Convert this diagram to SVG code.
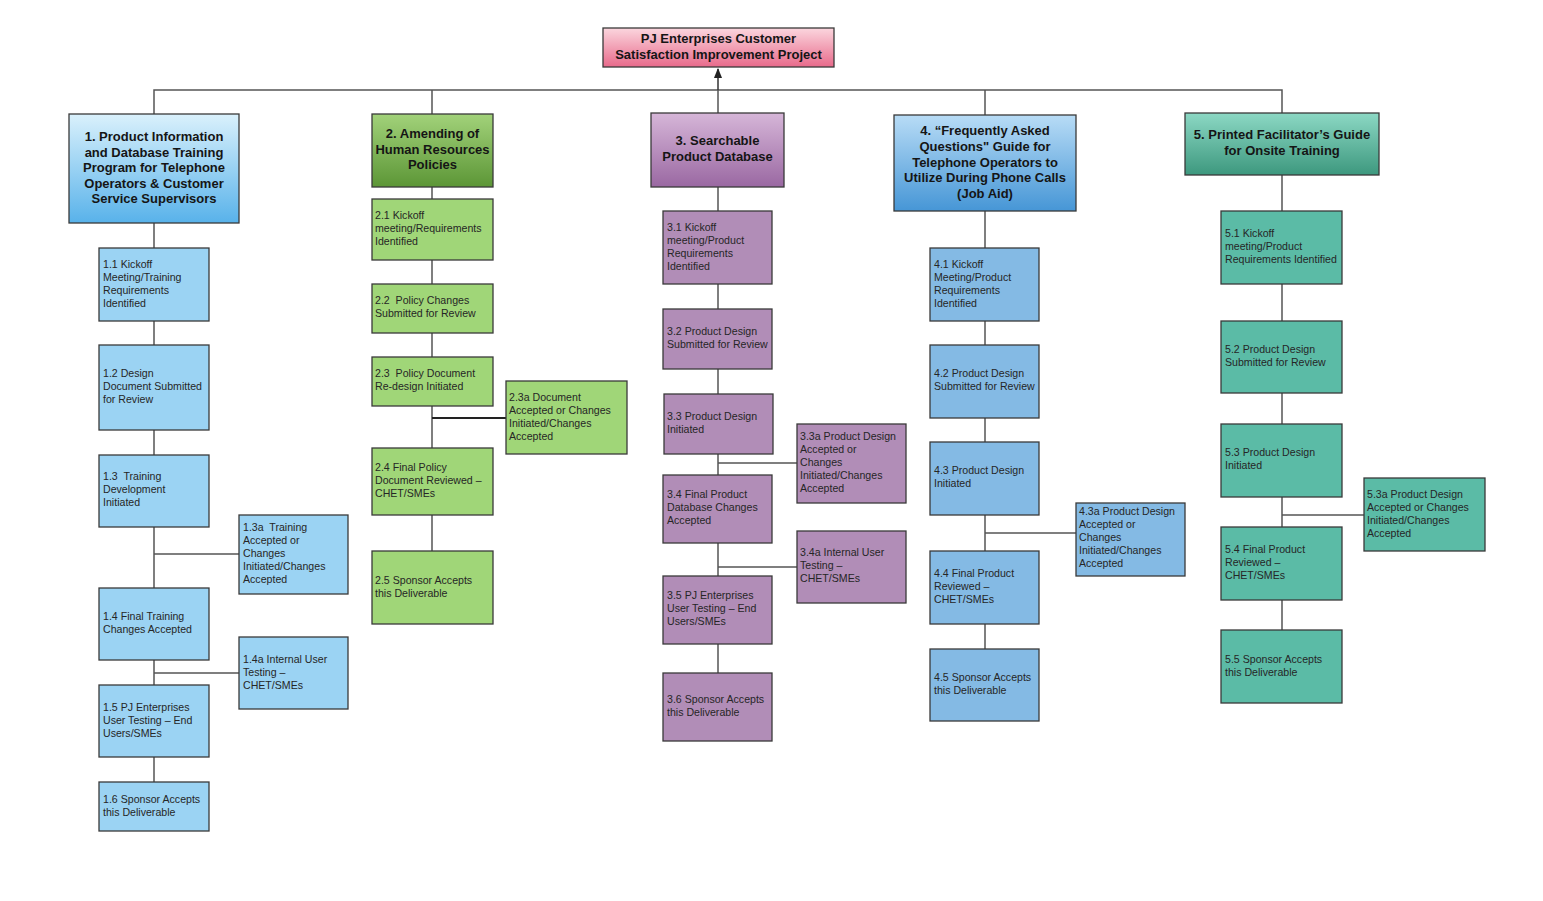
<svg xmlns="http://www.w3.org/2000/svg" width="1543" height="901" viewBox="0 0 1543 901">
<defs>
<linearGradient id="gT" x1="0" y1="0" x2="0" y2="1"><stop offset="0" stop-color="#fbd6de"/><stop offset="1" stop-color="#e86a8b"/></linearGradient>
<linearGradient id="g1" x1="0" y1="0" x2="0" y2="1"><stop offset="0" stop-color="#daf1fc"/><stop offset="1" stop-color="#58b2ea"/></linearGradient>
<linearGradient id="g2" x1="0" y1="0" x2="0" y2="1"><stop offset="0" stop-color="#a2d27a"/><stop offset="1" stop-color="#5c9636"/></linearGradient>
<linearGradient id="g3" x1="0" y1="0" x2="0" y2="1"><stop offset="0" stop-color="#d6b6d8"/><stop offset="1" stop-color="#9a68a2"/></linearGradient>
<linearGradient id="g4" x1="0" y1="0" x2="0" y2="1"><stop offset="0" stop-color="#b8dcf6"/><stop offset="1" stop-color="#4696d6"/></linearGradient>
<linearGradient id="g5" x1="0" y1="0" x2="0" y2="1"><stop offset="0" stop-color="#8cd8c4"/><stop offset="1" stop-color="#3d987e"/></linearGradient>
<marker id="arr" viewBox="0 0 10 10" refX="9" refY="5" markerWidth="7" markerHeight="7" orient="auto-start-reverse"><path d="M0,1 L10,5 L0,9 z" fill="#222"/></marker>
</defs>
<style>
.b{stroke:#3a3a3a;stroke-width:1.3}
.h{font-family:"Liberation Sans",Arial,sans-serif;font-size:13px;font-weight:bold;fill:#151515;text-anchor:middle}
.t{font-family:"Liberation Sans",Arial,sans-serif;font-size:10.6px;fill:#262626}
.c{fill:none;stroke:#555;stroke-width:1.5}
.n1{fill:#9bd3f3}.n2{fill:#a0d678}.n3{fill:#b18db7}.n4{fill:#84bae4}.n5{fill:#5bbba6}
</style>
<rect width="1543" height="901" fill="#fff"/>
<g id="connectors">
<path class="c" d="M154,114 V90 H1282 V113"/>
<path class="c" d="M432,90 V114"/>
<path class="c" d="M985,90 V115"/>
<path class="c" d="M718,113 V90"/>
<path class="c" d="M718,90 V69" marker-end="url(#arr)" style="stroke:#333"/>
<path class="c" d="M154,223 V782"/>
<path class="c" d="M154,554 H239"/>
<path class="c" d="M154,673 H239"/>
<path class="c" d="M432,187 V551"/>
<path class="c" d="M432,418 H506" style="stroke:#222;stroke-width:2"/>
<path class="c" d="M718,187 V673"/>
<path class="c" d="M718,463 H797"/>
<path class="c" d="M718,567 H797"/>
<path class="c" d="M985,211 V649"/>
<path class="c" d="M985,533 H1076"/>
<path class="c" d="M1282,175 V630"/>
<path class="c" d="M1282,515 H1364"/>
</g>
<g id="root"><rect class="b" x="603" y="28" width="231" height="39" fill="url(#gT)"/><text class="h"><tspan x="718.5" y="43">PJ Enterprises Customer</tspan><tspan x="718.5" y="59">Satisfaction Improvement Project</tspan></text></g>

<g id="h1"><rect class="b" x="69" y="114" width="170" height="109" fill="url(#g1)"/><text class="h"><tspan x="154" y="141">1. Product Information</tspan><tspan x="154" y="157">and Database Training</tspan><tspan x="154" y="172">Program for Telephone</tspan><tspan x="154" y="188">Operators &amp; Customer</tspan><tspan x="154" y="203">Service Supervisors</tspan></text></g>
<g id="n1-1"><rect class="b n1" x="99" y="248" width="110" height="73"/><text class="t"><tspan x="103" y="268">1.1 Kickoff</tspan><tspan x="103" y="281">Meeting/Training</tspan><tspan x="103" y="294">Requirements</tspan><tspan x="103" y="307">Identified</tspan></text></g>
<g id="n1-2"><rect class="b n1" x="99" y="345" width="110" height="85"/><text class="t"><tspan x="103" y="377">1.2 Design</tspan><tspan x="103" y="390">Document Submitted</tspan><tspan x="103" y="403">for Review</tspan></text></g>
<g id="n1-3"><rect class="b n1" x="99" y="455" width="110" height="72"/><text class="t" xml:space="preserve"><tspan x="103" y="480">1.3  Training</tspan><tspan x="103" y="493">Development</tspan><tspan x="103" y="506">Initiated</tspan></text></g>
<g id="n1-3a"><rect class="b n1" x="239" y="515" width="109" height="79"/><text class="t" xml:space="preserve"><tspan x="243" y="531">1.3a  Training</tspan><tspan x="243" y="544">Accepted or</tspan><tspan x="243" y="557">Changes</tspan><tspan x="243" y="570">Initiated/Changes</tspan><tspan x="243" y="583">Accepted</tspan></text></g>
<g id="n1-4"><rect class="b n1" x="99" y="588" width="110" height="72"/><text class="t"><tspan x="103" y="620">1.4 Final Training</tspan><tspan x="103" y="633">Changes Accepted</tspan></text></g>
<g id="n1-4a"><rect class="b n1" x="239" y="637" width="109" height="72"/><text class="t"><tspan x="243" y="663">1.4a Internal User</tspan><tspan x="243" y="676">Testing –</tspan><tspan x="243" y="689">CHET/SMEs</tspan></text></g>
<g id="n1-5"><rect class="b n1" x="99" y="685" width="110" height="72"/><text class="t"><tspan x="103" y="711">1.5 PJ Enterprises</tspan><tspan x="103" y="724">User Testing – End</tspan><tspan x="103" y="737">Users/SMEs</tspan></text></g>
<g id="n1-6"><rect class="b n1" x="99" y="782" width="110" height="49"/><text class="t"><tspan x="103" y="803">1.6 Sponsor Accepts</tspan><tspan x="103" y="816">this Deliverable</tspan></text></g>

<g id="h2"><rect class="b" x="372" y="114" width="121" height="73" fill="url(#g2)"/><text class="h"><tspan x="432.5" y="138">2. Amending of</tspan><tspan x="432.5" y="154">Human Resources</tspan><tspan x="432.5" y="169">Policies</tspan></text></g>
<g id="n2-1"><rect class="b n2" x="372" y="199" width="121" height="61"/><text class="t"><tspan x="375" y="219">2.1 Kickoff</tspan><tspan x="375" y="232">meeting/Requirements</tspan><tspan x="375" y="245">Identified</tspan></text></g>
<g id="n2-2"><rect class="b n2" x="372" y="284" width="121" height="49"/><text class="t" xml:space="preserve"><tspan x="375" y="304">2.2  Policy Changes</tspan><tspan x="375" y="317">Submitted for Review</tspan></text></g>
<g id="n2-3"><rect class="b n2" x="372" y="357" width="121" height="49"/><text class="t" xml:space="preserve"><tspan x="375" y="377">2.3  Policy Document</tspan><tspan x="375" y="390">Re-design Initiated</tspan></text></g>
<g id="n2-3a"><rect class="b n2" x="506" y="381" width="121" height="73"/><text class="t"><tspan x="509" y="401">2.3a Document</tspan><tspan x="509" y="414">Accepted or Changes</tspan><tspan x="509" y="427">Initiated/Changes</tspan><tspan x="509" y="440">Accepted</tspan></text></g>
<g id="n2-4"><rect class="b n2" x="372" y="448" width="121" height="67"/><text class="t"><tspan x="375" y="471">2.4 Final Policy</tspan><tspan x="375" y="484">Document Reviewed –</tspan><tspan x="375" y="497">CHET/SMEs</tspan></text></g>
<g id="n2-5"><rect class="b n2" x="372" y="551" width="121" height="73"/><text class="t"><tspan x="375" y="584">2.5 Sponsor Accepts</tspan><tspan x="375" y="597">this Deliverable</tspan></text></g>

<g id="h3"><rect class="b" x="651" y="113" width="133" height="74" fill="url(#g3)"/><text class="h"><tspan x="717.5" y="145">3. Searchable</tspan><tspan x="717.5" y="161">Product Database</tspan></text></g>
<g id="n3-1"><rect class="b n3" x="663" y="211" width="109" height="73"/><text class="t"><tspan x="667" y="231">3.1 Kickoff</tspan><tspan x="667" y="244">meeting/Product</tspan><tspan x="667" y="257">Requirements</tspan><tspan x="667" y="270">Identified</tspan></text></g>
<g id="n3-2"><rect class="b n3" x="663" y="309" width="109" height="60"/><text class="t"><tspan x="667" y="335">3.2 Product Design</tspan><tspan x="667" y="348">Submitted for Review</tspan></text></g>
<g id="n3-3"><rect class="b n3" x="664" y="394" width="109" height="60"/><text class="t"><tspan x="667" y="420">3.3 Product Design</tspan><tspan x="667" y="433">Initiated</tspan></text></g>
<g id="n3-3a"><rect class="b n3" x="797" y="424" width="109" height="79"/><text class="t"><tspan x="800" y="440">3.3a Product Design</tspan><tspan x="800" y="453">Accepted or</tspan><tspan x="800" y="466">Changes</tspan><tspan x="800" y="479">Initiated/Changes</tspan><tspan x="800" y="492">Accepted</tspan></text></g>
<g id="n3-4"><rect class="b n3" x="663" y="475" width="109" height="68"/><text class="t"><tspan x="667" y="498">3.4 Final Product</tspan><tspan x="667" y="511">Database Changes</tspan><tspan x="667" y="524">Accepted</tspan></text></g>
<g id="n3-4a"><rect class="b n3" x="797" y="531" width="109" height="72"/><text class="t"><tspan x="800" y="556">3.4a Internal User</tspan><tspan x="800" y="569">Testing –</tspan><tspan x="800" y="582">CHET/SMEs</tspan></text></g>
<g id="n3-5"><rect class="b n3" x="663" y="576" width="109" height="68"/><text class="t"><tspan x="667" y="599">3.5 PJ Enterprises</tspan><tspan x="667" y="612">User Testing – End</tspan><tspan x="667" y="625">Users/SMEs</tspan></text></g>
<g id="n3-6"><rect class="b n3" x="663" y="673" width="109" height="68"/><text class="t"><tspan x="667" y="703">3.6 Sponsor Accepts</tspan><tspan x="667" y="716">this Deliverable</tspan></text></g>

<g id="h4"><rect class="b" x="894" y="115" width="182" height="96" fill="url(#g4)"/><text class="h"><tspan x="985" y="135">4. “Frequently Asked</tspan><tspan x="985" y="151">Questions" Guide for</tspan><tspan x="985" y="167">Telephone Operators to</tspan><tspan x="985" y="182">Utilize During Phone Calls</tspan><tspan x="985" y="198">(Job Aid)</tspan></text></g>
<g id="n4-1"><rect class="b n4" x="930" y="248" width="109" height="73"/><text class="t"><tspan x="934" y="268">4.1 Kickoff</tspan><tspan x="934" y="281">Meeting/Product</tspan><tspan x="934" y="294">Requirements</tspan><tspan x="934" y="307">Identified</tspan></text></g>
<g id="n4-2"><rect class="b n4" x="930" y="345" width="109" height="73"/><text class="t"><tspan x="934" y="377">4.2 Product Design</tspan><tspan x="934" y="390">Submitted for Review</tspan></text></g>
<g id="n4-3"><rect class="b n4" x="930" y="442" width="109" height="73"/><text class="t"><tspan x="934" y="474">4.3 Product Design</tspan><tspan x="934" y="487">Initiated</tspan></text></g>
<g id="n4-3a"><rect class="b n4" x="1076" y="503" width="109" height="73"/><text class="t"><tspan x="1079" y="515">4.3a Product Design</tspan><tspan x="1079" y="528">Accepted or</tspan><tspan x="1079" y="541">Changes</tspan><tspan x="1079" y="554">Initiated/Changes</tspan><tspan x="1079" y="567">Accepted</tspan></text></g>
<g id="n4-4"><rect class="b n4" x="930" y="551" width="109" height="73"/><text class="t"><tspan x="934" y="577">4.4 Final Product</tspan><tspan x="934" y="590">Reviewed –</tspan><tspan x="934" y="603">CHET/SMEs</tspan></text></g>
<g id="n4-5"><rect class="b n4" x="930" y="649" width="109" height="72"/><text class="t"><tspan x="934" y="681">4.5 Sponsor Accepts</tspan><tspan x="934" y="694">this Deliverable</tspan></text></g>

<g id="h5"><rect class="b" x="1185" y="113" width="194" height="62" fill="url(#g5)"/><text class="h"><tspan x="1282" y="139">5. Printed Facilitator’s Guide</tspan><tspan x="1282" y="155">for Onsite Training</tspan></text></g>
<g id="n5-1"><rect class="b n5" x="1221" y="211" width="121" height="73"/><text class="t"><tspan x="1225" y="237">5.1 Kickoff</tspan><tspan x="1225" y="250">meeting/Product</tspan><tspan x="1225" y="263">Requirements Identified</tspan></text></g>
<g id="n5-2"><rect class="b n5" x="1221" y="321" width="121" height="72"/><text class="t"><tspan x="1225" y="353">5.2 Product Design</tspan><tspan x="1225" y="366">Submitted for Review</tspan></text></g>
<g id="n5-3"><rect class="b n5" x="1221" y="424" width="121" height="73"/><text class="t"><tspan x="1225" y="456">5.3 Product Design</tspan><tspan x="1225" y="469">Initiated</tspan></text></g>
<g id="n5-3a"><rect class="b n5" x="1364" y="478" width="121" height="73"/><text class="t"><tspan x="1367" y="498">5.3a Product Design</tspan><tspan x="1367" y="511">Accepted or Changes</tspan><tspan x="1367" y="524">Initiated/Changes</tspan><tspan x="1367" y="537">Accepted</tspan></text></g>
<g id="n5-4"><rect class="b n5" x="1221" y="527" width="121" height="73"/><text class="t"><tspan x="1225" y="553">5.4 Final Product</tspan><tspan x="1225" y="566">Reviewed –</tspan><tspan x="1225" y="579">CHET/SMEs</tspan></text></g>
<g id="n5-5"><rect class="b n5" x="1221" y="630" width="121" height="73"/><text class="t"><tspan x="1225" y="663">5.5 Sponsor Accepts</tspan><tspan x="1225" y="676">this Deliverable</tspan></text></g>
</svg>
